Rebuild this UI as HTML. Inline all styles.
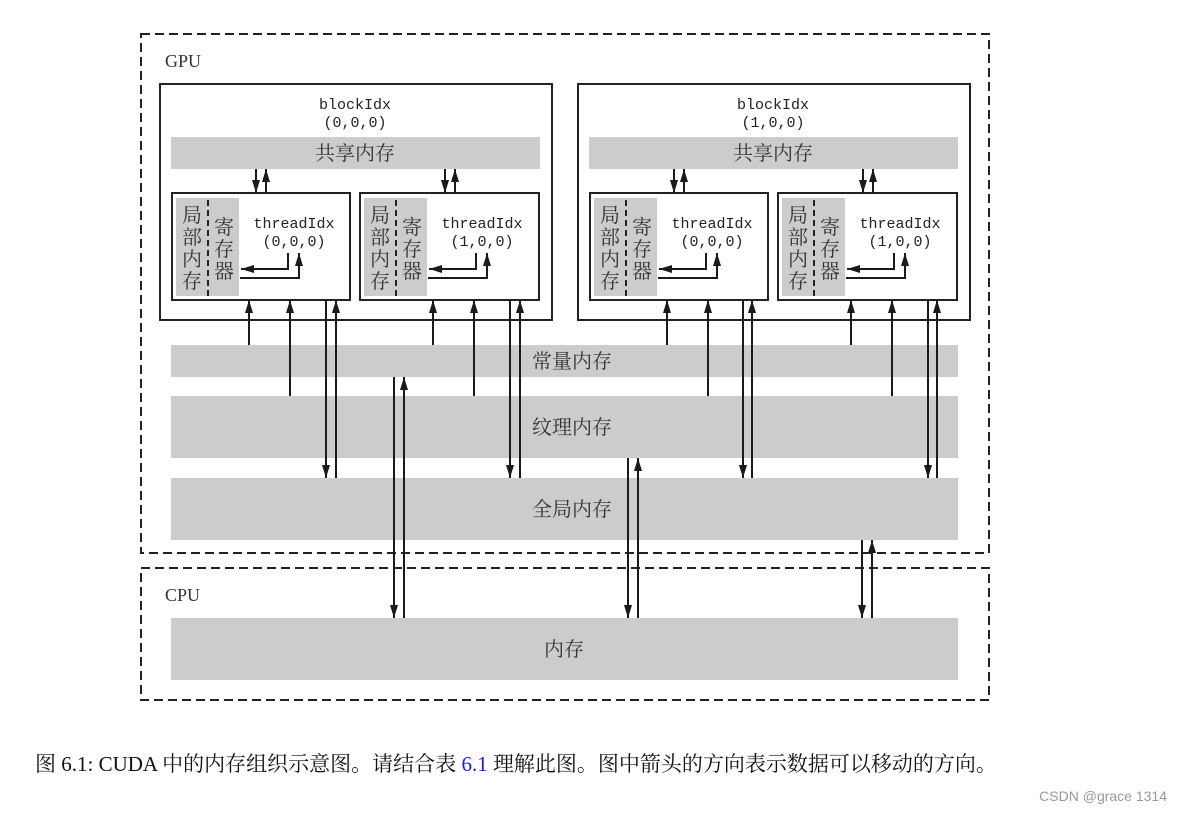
<!DOCTYPE html>
<html><head><meta charset="utf-8"><style>
html,body{margin:0;padding:0;background:#fff;}
svg{display:block;}
.m{font-family:"Liberation Mono",monospace;font-size:15px;fill:#222;}
.c{font-family:"Liberation Serif","Noto Serif CJK SC","Noto Sans CJK SC",serif;fill:#333;}
</style></head><body>
<svg width="1183" height="814" viewBox="0 0 1183 814" xmlns="http://www.w3.org/2000/svg">
<defs>
<marker id="a" markerUnits="userSpaceOnUse" markerWidth="14" markerHeight="10" refX="13" refY="4" orient="auto"><path d="M0,0 L13,4 L0,8 Z" fill="#1a1a1a"/></marker>
</defs>
<g fill="none" stroke="#222" stroke-width="2" stroke-dasharray="9,5">
<rect x="141" y="34" width="848" height="519"/>
<rect x="141" y="568" width="848" height="132"/>
</g>
<text x="165" y="67" class="c" font-size="18">GPU</text>
<text x="165" y="601" class="c" font-size="18">CPU</text>

<g fill="#fff" stroke="#222" stroke-width="2">
<rect x="160" y="84" width="392" height="236"/>
<rect x="578" y="84" width="392" height="236"/>
</g>
<g fill="#cccccc">
<rect x="171" y="137" width="369" height="32"/>
<rect x="589" y="137" width="369" height="32"/>
<rect x="171" y="345" width="787" height="32"/>
<rect x="171" y="396" width="787" height="62"/>
<rect x="171" y="478" width="787" height="62"/>
<rect x="171" y="618" width="787" height="62"/>
</g>
<g class="m" text-anchor="middle">
<text x="355" y="109">blockIdx</text><text x="355" y="127">(0,0,0)</text>
<text x="773" y="109">blockIdx</text><text x="773" y="127">(1,0,0)</text>
</g>
<g class="c" font-size="20" text-anchor="middle">
<text x="355" y="160">共享内存</text>
<text x="773" y="160">共享内存</text>
<text x="572" y="368">常量内存</text>
<text x="572" y="434">纹理内存</text>
<text x="572" y="516">全局内存</text>
<text x="564" y="656">内存</text>
</g>

<!-- thread boxes -->
<g id="t1">
<rect x="172" y="193" width="178" height="107" fill="#fff" stroke="#222" stroke-width="2"/>
<rect x="176" y="198" width="63" height="98" fill="#cccccc"/>
<line x1="208" y1="200" x2="208" y2="296" stroke="#222" stroke-width="2" stroke-dasharray="6,4"/>
<g class="c" font-size="20" text-anchor="middle"><text x="192" y="222">局</text><text x="192" y="244">部</text><text x="192" y="266">内</text><text x="192" y="288">存</text>
<text x="224" y="234">寄</text><text x="224" y="256">存</text><text x="224" y="278">器</text></g>
<text x="294" y="228" class="m" text-anchor="middle">threadIdx</text><text x="294" y="246" class="m" text-anchor="middle">(0,0,0)</text>
<path d="M288 253 V269 H241" fill="none" stroke="#1a1a1a" stroke-width="2" marker-end="url(#a)"/>
<path d="M240 278 H299 V253" fill="none" stroke="#1a1a1a" stroke-width="2" marker-end="url(#a)"/>
</g>
<g transform="translate(188,0)">
<rect x="172" y="193" width="179" height="107" fill="#fff" stroke="#222" stroke-width="2"/>
<rect x="176" y="198" width="63" height="98" fill="#cccccc"/>
<line x1="208" y1="200" x2="208" y2="296" stroke="#222" stroke-width="2" stroke-dasharray="6,4"/>
<g class="c" font-size="20" text-anchor="middle"><text x="192" y="222">局</text><text x="192" y="244">部</text><text x="192" y="266">内</text><text x="192" y="288">存</text>
<text x="224" y="234">寄</text><text x="224" y="256">存</text><text x="224" y="278">器</text></g>
<text x="294" y="228" class="m" text-anchor="middle">threadIdx</text><text x="294" y="246" class="m" text-anchor="middle">(1,0,0)</text>
<path d="M288 253 V269 H241" fill="none" stroke="#1a1a1a" stroke-width="2" marker-end="url(#a)"/>
<path d="M240 278 H299 V253" fill="none" stroke="#1a1a1a" stroke-width="2" marker-end="url(#a)"/>
</g>
<g transform="translate(418,0)">
<rect x="172" y="193" width="178" height="107" fill="#fff" stroke="#222" stroke-width="2"/>
<rect x="176" y="198" width="63" height="98" fill="#cccccc"/>
<line x1="208" y1="200" x2="208" y2="296" stroke="#222" stroke-width="2" stroke-dasharray="6,4"/>
<g class="c" font-size="20" text-anchor="middle"><text x="192" y="222">局</text><text x="192" y="244">部</text><text x="192" y="266">内</text><text x="192" y="288">存</text>
<text x="224" y="234">寄</text><text x="224" y="256">存</text><text x="224" y="278">器</text></g>
<text x="294" y="228" class="m" text-anchor="middle">threadIdx</text><text x="294" y="246" class="m" text-anchor="middle">(0,0,0)</text>
<path d="M288 253 V269 H241" fill="none" stroke="#1a1a1a" stroke-width="2" marker-end="url(#a)"/>
<path d="M240 278 H299 V253" fill="none" stroke="#1a1a1a" stroke-width="2" marker-end="url(#a)"/>
</g>
<g transform="translate(606,0)">
<rect x="172" y="193" width="179" height="107" fill="#fff" stroke="#222" stroke-width="2"/>
<rect x="176" y="198" width="63" height="98" fill="#cccccc"/>
<line x1="208" y1="200" x2="208" y2="296" stroke="#222" stroke-width="2" stroke-dasharray="6,4"/>
<g class="c" font-size="20" text-anchor="middle"><text x="192" y="222">局</text><text x="192" y="244">部</text><text x="192" y="266">内</text><text x="192" y="288">存</text>
<text x="224" y="234">寄</text><text x="224" y="256">存</text><text x="224" y="278">器</text></g>
<text x="294" y="228" class="m" text-anchor="middle">threadIdx</text><text x="294" y="246" class="m" text-anchor="middle">(1,0,0)</text>
<path d="M288 253 V269 H241" fill="none" stroke="#1a1a1a" stroke-width="2" marker-end="url(#a)"/>
<path d="M240 278 H299 V253" fill="none" stroke="#1a1a1a" stroke-width="2" marker-end="url(#a)"/>
</g>

<g stroke="#1a1a1a" stroke-width="2" fill="none" marker-end="url(#a)">
<!-- shared mem arrows -->
<line x1="256" y1="169" x2="256" y2="193"/><line x1="266" y1="193" x2="266" y2="169"/>
<line x1="445" y1="169" x2="445" y2="193"/><line x1="455" y1="193" x2="455" y2="169"/>
<line x1="674" y1="169" x2="674" y2="193"/><line x1="684" y1="193" x2="684" y2="169"/>
<line x1="863" y1="169" x2="863" y2="193"/><line x1="873" y1="193" x2="873" y2="169"/>
<!-- constant/texture up -->
<line x1="249" y1="345" x2="249" y2="300"/><line x1="290" y1="396" x2="290" y2="300"/>
<line x1="433" y1="345" x2="433" y2="300"/><line x1="474" y1="396" x2="474" y2="300"/>
<line x1="667" y1="345" x2="667" y2="300"/><line x1="708" y1="396" x2="708" y2="300"/>
<line x1="851" y1="345" x2="851" y2="300"/><line x1="892" y1="396" x2="892" y2="300"/>
<!-- global -->
<line x1="326" y1="300" x2="326" y2="478"/><line x1="336" y1="478" x2="336" y2="300"/>
<line x1="510" y1="300" x2="510" y2="478"/><line x1="520" y1="478" x2="520" y2="300"/>
<line x1="743" y1="300" x2="743" y2="478"/><line x1="752" y1="478" x2="752" y2="300"/>
<line x1="928" y1="300" x2="928" y2="478"/><line x1="937" y1="478" x2="937" y2="300"/>
<!-- CPU -->
<line x1="394" y1="377" x2="394" y2="618"/><line x1="404" y1="618" x2="404" y2="377"/>
<line x1="628" y1="458" x2="628" y2="618"/><line x1="638" y1="618" x2="638" y2="458"/>
<line x1="862" y1="540" x2="862" y2="618"/><line x1="872" y1="618" x2="872" y2="540"/>
</g>

<text x="35" y="771" font-family="'Liberation Serif','Noto Serif CJK SC',serif" font-size="21" fill="#111">图 6.1: CUDA 中的内存组织示意图。请结合表 <tspan fill="#1a1aee">6.1</tspan> 理解此图。图中箭头的方向表示数据可以移动的方向。</text>
<text x="1167" y="801" text-anchor="end" font-family="'Liberation Sans',sans-serif" font-size="14" fill="#999">CSDN @grace 1314</text>
</svg>
</body></html>
